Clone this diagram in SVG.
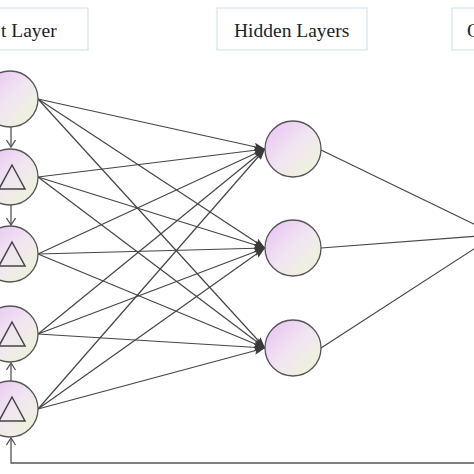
<svg xmlns="http://www.w3.org/2000/svg" width="474" height="474" viewBox="0 0 474 474">
<style>
.box{fill:#ffffff;stroke:#d5e3ec;stroke-width:1.2}
.lbl{font-family:"Liberation Serif","Times New Roman",serif;font-size:19.5px;fill:#1e1e1e}
.node{fill:url(#ng);stroke:#555;stroke-width:1.3}
.tri{fill:none;stroke:#444;stroke-width:1.5;stroke-linejoin:miter}
.c{stroke:#454545;stroke-width:1.2;fill:none}
.ca{stroke:#454545;stroke-width:1.2;fill:none;marker-end:url(#ah)}
.v{stroke:#555;stroke-width:1.3;fill:none;marker-end:url(#oa)}
</style>
<defs>
<linearGradient id="ng" x1="0" y1="0" x2="1" y2="1">
<stop offset="0" stop-color="#e8bff3"/>
<stop offset="0.5" stop-color="#f1e5f2"/>
<stop offset="1" stop-color="#edf7d3"/>
</linearGradient>
<marker id="ah" markerUnits="userSpaceOnUse" markerWidth="12" markerHeight="10" refX="11" refY="4" orient="auto">
<path d="M0,0 L11,4 L0,8 L2,4 Z" fill="#3a3a3a"/>
</marker>
<marker id="oa" markerUnits="userSpaceOnUse" markerWidth="12" markerHeight="12" refX="8" refY="5" orient="auto">
<path d="M1,0.5 L8,5 L1,9.5" fill="none" stroke="#555" stroke-width="1.3"/>
</marker>
</defs>

<g id="label-input">
<rect class="box" x="-20" y="8" width="108" height="42"/>
<text class="lbl" x="1" y="37">t Layer</text>
</g>
<g id="label-hidden">
<rect class="box" x="217" y="8" width="150" height="42"/>
<text class="lbl" x="234" y="37">Hidden Layers</text>
</g>
<g id="label-output">
<rect class="box" x="452" y="8" width="60" height="42"/>
<text class="lbl" x="467" y="37">O</text>
</g>

<g id="connectors">
<line class="ca" x1="38" y1="99" x2="265" y2="149"/>
<line class="ca" x1="38" y1="99" x2="265" y2="248"/>
<line class="ca" x1="38" y1="99" x2="265" y2="348"/>
<line class="ca" x1="38" y1="177" x2="265" y2="149"/>
<line class="ca" x1="38" y1="177" x2="265" y2="248"/>
<line class="ca" x1="38" y1="177" x2="265" y2="348"/>
<line class="ca" x1="38" y1="254" x2="265" y2="149"/>
<line class="ca" x1="38" y1="254" x2="265" y2="248"/>
<line class="ca" x1="38" y1="254" x2="265" y2="348"/>
<line class="ca" x1="38" y1="334" x2="265" y2="149"/>
<line class="ca" x1="38" y1="334" x2="265" y2="248"/>
<line class="ca" x1="38" y1="334" x2="265" y2="348"/>
<line class="ca" x1="38" y1="409" x2="265" y2="149"/>
<line class="ca" x1="38" y1="409" x2="265" y2="248"/>
<line class="ca" x1="38" y1="409" x2="265" y2="348"/>
<line class="c" x1="321" y1="150" x2="480" y2="227"/>
<line class="c" x1="321" y1="248" x2="480" y2="236"/>
<line class="c" x1="321" y1="348" x2="480" y2="245"/>
<line class="v" x1="11" y1="127" x2="11" y2="147"/>
<line class="v" x1="11" y1="205" x2="11" y2="225"/>
<line class="v" x1="11" y1="381" x2="11" y2="363"/>
<polyline class="v" points="480,463 11,463 11,438"/>
</g>

<g id="input-1"><circle class="node" cx="10" cy="99" r="28"/></g>
<g id="input-2"><circle class="node" cx="10" cy="177" r="28"/><path class="tri" d="M12,165 L25,189 L-1,189 Z"/></g>
<g id="input-3"><circle class="node" cx="10" cy="254" r="28"/><path class="tri" d="M12,242 L25,266 L-1,266 Z"/></g>
<g id="input-4"><circle class="node" cx="10" cy="334" r="28"/><path class="tri" d="M12,322 L25,346 L-1,346 Z"/></g>
<g id="input-5"><circle class="node" cx="10" cy="409" r="28"/><path class="tri" d="M12,397 L25,421 L-1,421 Z"/></g>

<g id="hidden-1"><circle class="node" cx="293" cy="149" r="28"/></g>
<g id="hidden-2"><circle class="node" cx="293" cy="248" r="28"/></g>
<g id="hidden-3"><circle class="node" cx="293" cy="348" r="28"/></g>

<g id="output-1"><circle class="node" cx="508" cy="236" r="28"/></g>
</svg>
